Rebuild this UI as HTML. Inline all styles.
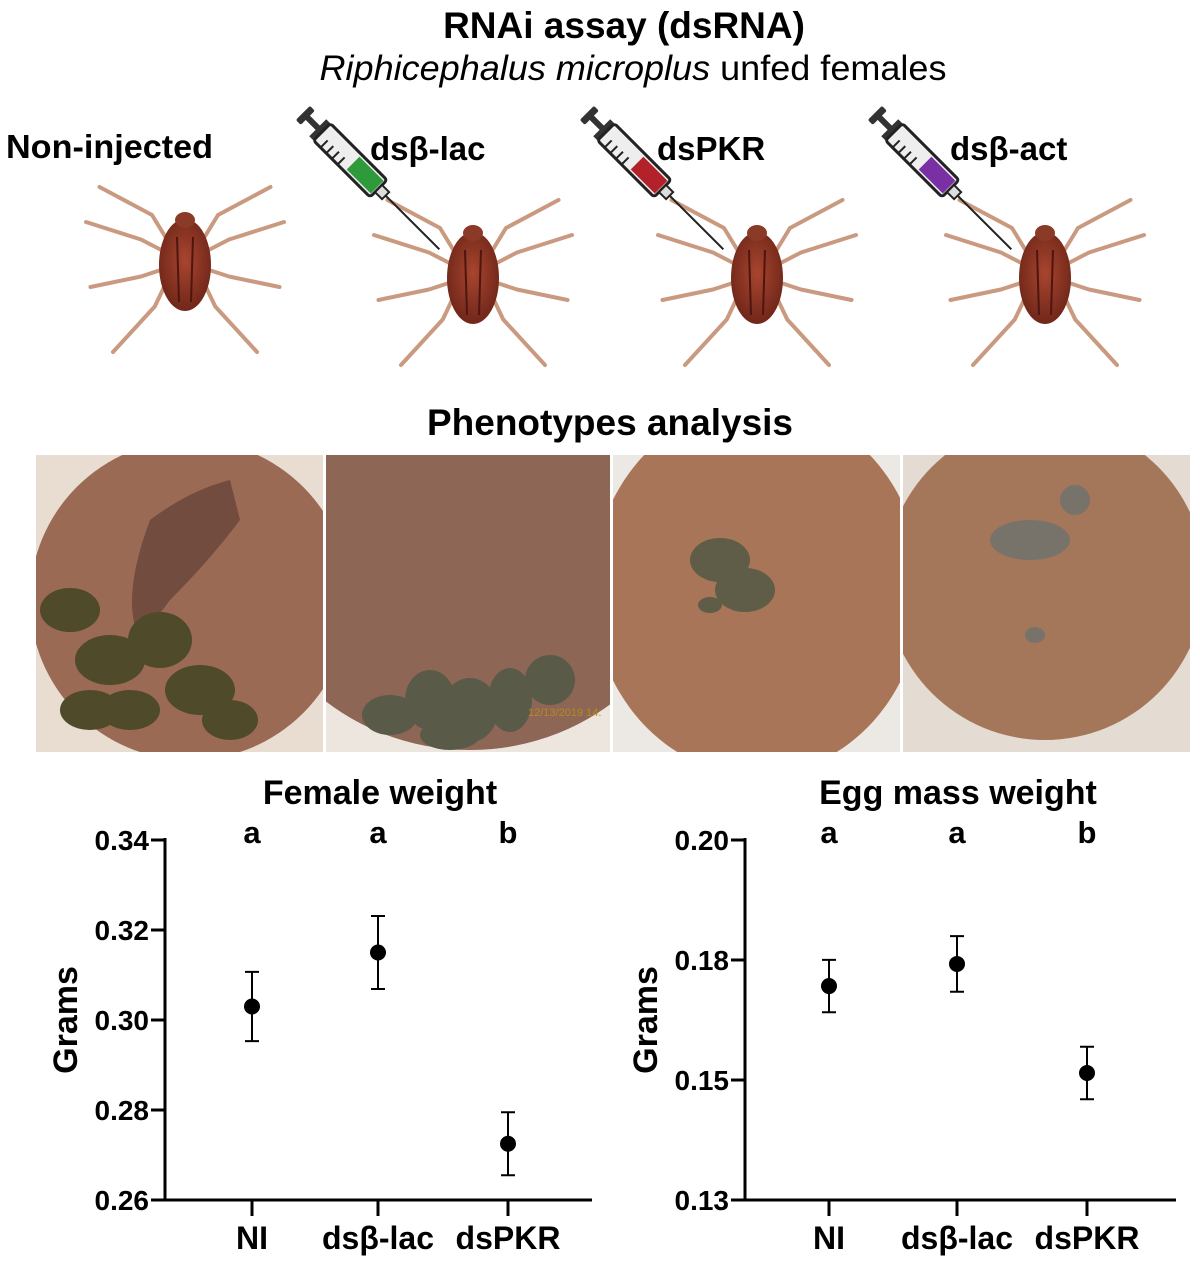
<!DOCTYPE html>
<html><head><meta charset="utf-8"><style>
html,body{margin:0;padding:0;background:#fff;}
body{width:1200px;height:1260px;overflow:hidden;font-family:"Liberation Sans",sans-serif;}
svg text{font-family:"Liberation Sans",sans-serif;}
</style></head><body>
<svg id="fig" width="1200" height="1260" viewBox="0 0 1200 1260" xmlns="http://www.w3.org/2000/svg">
<defs>
<clipPath id="c1"><rect x="36" y="455" width="287" height="297"/></clipPath>
<clipPath id="c2"><rect x="326" y="455" width="284" height="297"/></clipPath>
<clipPath id="c3"><rect x="613" y="455" width="287" height="297"/></clipPath>
<clipPath id="c4"><rect x="903" y="455" width="287" height="297"/></clipPath>
<radialGradient id="body" cx="50%" cy="45%" r="60%"><stop offset="0" stop-color="#a8452f"/><stop offset="1" stop-color="#6b2418"/></radialGradient>
</defs>
<text x="624" y="38" font-size="37" font-weight="bold" text-anchor="middle">RNAi assay (dsRNA)</text>
<text x="633" y="80" font-size="35" text-anchor="middle" textLength="627" lengthAdjust="spacingAndGlyphs"><tspan font-style="italic">Riphicephalus microplus</tspan> unfed females</text>
<text x="6" y="158" font-size="33" font-weight="bold" textLength="207" lengthAdjust="spacingAndGlyphs">Non-injected</text>
<text x="370" y="160" font-size="33" font-weight="bold">dsβ-lac</text>
<text x="657" y="160" font-size="33" font-weight="bold">dsPKR</text>
<text x="950" y="160" font-size="33" font-weight="bold">dsβ-act</text>
<g id="ticks"></g>
<text x="610" y="435" font-size="37" font-weight="bold" text-anchor="middle">Phenotypes analysis</text>
<g clip-path="url(#c1)">
<rect x="36" y="455" width="287" height="297" fill="#e8ddd0"/>
<circle cx="190" cy="600" r="160" fill="#9a6a55"/>
<path d="M150 520 q40 -30 80 -40 l10 40 q-30 40 -70 80 l-30 40 q-20 -40 10 -120z" fill="#4a2e2a" opacity="0.5"/>
<g fill="#4f4a2a"><ellipse cx="70" cy="610" rx="30" ry="22"/><ellipse cx="110" cy="660" rx="35" ry="25"/><ellipse cx="160" cy="640" rx="32" ry="28"/><ellipse cx="200" cy="690" rx="35" ry="25"/><ellipse cx="130" cy="710" rx="30" ry="20"/><ellipse cx="230" cy="720" rx="28" ry="20"/><ellipse cx="90" cy="710" rx="30" ry="20"/></g>
</g>
<g clip-path="url(#c2)">
<rect x="326" y="455" width="284" height="297" fill="#ece6df"/>
<ellipse cx="470" cy="530" rx="230" ry="220" fill="#8e6656"/>
<g fill="#5a5a48"><ellipse cx="390" cy="715" rx="28" ry="20"/><ellipse cx="430" cy="700" rx="25" ry="30"/><ellipse cx="470" cy="710" rx="28" ry="32"/><ellipse cx="510" cy="700" rx="22" ry="32"/><ellipse cx="550" cy="680" rx="25" ry="25"/><ellipse cx="450" cy="735" rx="30" ry="15"/></g>
<text x="528" y="716" font-size="11" fill="#b38a20">12/13/2019 14:</text>
</g>
<g clip-path="url(#c3)">
<rect x="613" y="455" width="287" height="297" fill="#ece8e4"/>
<ellipse cx="757" cy="590" rx="165" ry="185" fill="#a87558"/>
<g fill="#5f5c48"><ellipse cx="720" cy="560" rx="30" ry="22"/><ellipse cx="745" cy="590" rx="30" ry="22"/><ellipse cx="710" cy="605" rx="12" ry="8"/></g>
</g>
<g clip-path="url(#c4)">
<rect x="903" y="455" width="287" height="297" fill="#e4dcd3"/>
<ellipse cx="1045" cy="580" rx="160" ry="160" fill="#a5775a"/>
<g fill="#77726a"><ellipse cx="1030" cy="540" rx="40" ry="20"/><ellipse cx="1075" cy="500" rx="15" ry="15"/><ellipse cx="1035" cy="635" rx="10" ry="8"/></g>
</g>
<g id="chart1"></g>
<g id="chart2"></g>
</svg>
<script>
const categories = ["NI", "dsβ-lac", "dsPKR"];
const letters = ["a", "a", "b"];
const femaleMeans = [0.303, 0.315, 0.2725];
const femaleErr = [0.0077, 0.0081, 0.007];
const femaleTicks = [0.26, 0.28, 0.30, 0.32, 0.34];
const femaleTickLabels = ["0.26", "0.28", "0.30", "0.32", "0.34"];
const eggMeans = [0.1716, 0.1759, 0.1547];
const eggErr = [0.0051, 0.0054, 0.0051];
const eggTicks = [0.13, 0.15333, 0.17667, 0.20];
const eggTickLabels = ["0.13", "0.15", "0.18", "0.20"];

const NS = "http://www.w3.org/2000/svg";
function mk(tag, attrs, parent) {
  const e = document.createElementNS(NS, tag);
  for (const k in attrs) e.setAttribute(k, attrs[k]);
  parent.appendChild(e);
  return e;
}

const tickGroup = document.getElementById("ticks");
const tickPos = [[185, 262, false, ""], [473, 275, true, "#2e9a3a"], [757, 275, true, "#b3222a"], [1045, 275, true, "#7a2fa5"]];
tickPos.forEach((p) => {
  const g = mk("g", {}, tickGroup);
  
  
  const [cx, cy] = p;
  const legs = [[-35, -60, -75, -95], [-15, -80, -40, -110], [10, -80, 25, -105], [25, -55, 90, -80]];
  legs.forEach(l => {
    [-1, 1].forEach(s => {
      const kx = cx + s * Math.abs(l[1]) * 0.55, ky = cy + l[0] + (l[2] - l[0]) * 0.3;
      const ex = cx + s * Math.abs(l[3]) * 0.9, ey = cy + l[2];
      mk("path", { d: `M${cx + s * 15} ${cy + l[0] * 0.5} L${kx} ${ky} L${ex} ${ey}`, stroke: "#c99a80", "stroke-width": 4, fill: "none", "stroke-linecap": "round", "stroke-linejoin": "round" }, g);
    });
  });
  mk("ellipse", { cx: cx, cy: cy + 3, rx: 26, ry: 46, fill: "url(#body)" }, g);
  mk("ellipse", { cx: cx, cy: cy - 42, rx: 10, ry: 8, fill: "#8b3a28" }, g);
  mk("path", { d: `M${cx - 8} ${cy - 25} L${cx - 6} ${cy + 40} M${cx + 8} ${cy - 25} L${cx + 6} ${cy + 40}`, stroke: "#4e160f", "stroke-width": 2, fill: "none" }, g);
  if (p[2]) {
    const s = mk("g", { transform: `translate(${cx - 168},${cy - 160}) rotate(-45)` }, tickGroup);
    
    
    mk("rect", { x: -10, y: -3, width: 20, height: 7, fill: "#333", rx: 2 }, s);
    mk("rect", { x: -3, y: 0, width: 6, height: 20, fill: "#333" }, s);
    mk("rect", { x: -12, y: 18, width: 24, height: 6, fill: "#333" }, s);
    mk("rect", { x: -12, y: 24, width: 24, height: 80, fill: "#eee", stroke: "#222", "stroke-width": 3, rx: 3 }, s);
    mk("rect", { x: -9, y: 68, width: 18, height: 34, fill: p[3] }, s);
    for (let k = 0; k < 4; k++) mk("line", { x1: -12, x2: -2, y1: 34 + k * 8, y2: 34 + k * 8, stroke: "#222", "stroke-width": 2 }, s);
    mk("rect", { x: -5, y: 104, width: 10, height: 10, fill: "#ddd", stroke: "#222", "stroke-width": 2 }, s);
    mk("line", { x1: 0, y1: 114, x2: 0, y2: 190, stroke: "#222", "stroke-width": 2 }, s);
  }
});

function chart(gid, title, titleX, ax, axEnd, catX, means, errs, ticks, tickLabels, vmin, vmax) {
  const g = document.getElementById(gid);
  const top = 840, bot = 1200;
  const y = v => bot - (v - vmin) / (vmax - vmin) * (bot - top);
  const t = mk("text", { x: titleX, y: 804, "font-size": 34, "font-weight": "bold", "text-anchor": "middle" }, g);
  t.textContent = title;
  
  
  const yl = mk("line", { x1: ax, y1: top - 2, x2: ax, y2: bot, stroke: "#000", "stroke-width": 3 }, g);
  
  
  const xl = mk("line", { x1: ax - 14, y1: bot, x2: axEnd, y2: bot, stroke: "#000", "stroke-width": 3 }, g);
  
  
  ticks.forEach((v, i) => {
    mk("line", { x1: ax - 14, x2: ax, y1: y(v), y2: y(v), stroke: "#000", "stroke-width": 3 }, g);
    const tl = mk("text", { x: ax - 16, y: y(v) + 10, "font-size": 28, "font-weight": "bold", "text-anchor": "end" }, g);
    tl.textContent = tickLabels[i];
    
    
  });
  const yt = mk("text", { x: 0, y: 0, "font-size": 34, "font-weight": "bold", "text-anchor": "middle", transform: `translate(${ax - 88},1020) rotate(-90)` }, g);
  yt.textContent = "Grams";
  
  
  categories.forEach((c, i) => {
    const x = catX[i];
    mk("line", { x1: x, x2: x, y1: bot, y2: bot + 16, stroke: "#000", "stroke-width": 3 }, g);
    const cl = mk("text", { x: x, y: 1249, "font-size": 32, "font-weight": "bold", "text-anchor": "middle" }, g);
    cl.textContent = c;
    
    
    const lt = mk("text", { x: x, y: 843, "font-size": 31, "font-weight": "bold", "text-anchor": "middle" }, g);
    lt.textContent = letters[i];
    
    
    const hi = y(means[i] + errs[i]), lo = y(means[i] - errs[i]);
    const eb = mk("path", { d: `M${x} ${hi} L${x} ${lo} M${x - 7} ${hi} L${x + 7} ${hi} M${x - 7} ${lo} L${x + 7} ${lo}`, stroke: "#000", "stroke-width": 2, fill: "none" }, g);
    
    
    const pt = mk("circle", { cx: x, cy: y(means[i]), r: 8, fill: "#000" }, g);
    
    
  });
}
chart("chart1", "Female weight", 380, 165, 592, [252, 378, 508], femaleMeans, femaleErr, femaleTicks, femaleTickLabels, 0.26, 0.34);
chart("chart2", "Egg mass weight", 958, 745, 1176, [829, 957, 1087], eggMeans, eggErr, eggTicks, eggTickLabels, 0.13, 0.20);
</script>
</body></html>
